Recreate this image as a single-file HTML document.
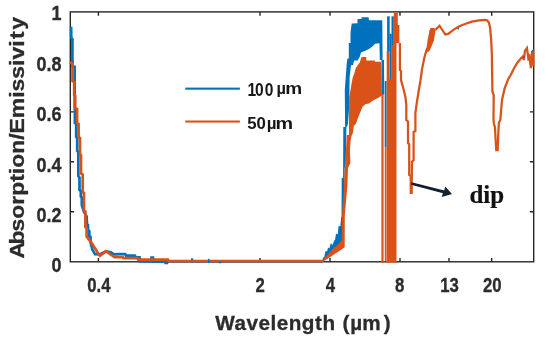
<!DOCTYPE html>
<html><head><meta charset="utf-8"><title>Absorption/Emissivity</title>
<style>
html,body{margin:0;padding:0;background:#fff;}
svg{display:block;}
text{font-family:"Liberation Sans",sans-serif;font-weight:bold;fill:#2c2c2c;stroke:#2c2c2c;stroke-width:0.3px;}
.tk{font-size:18px;}
</style></head>
<body>
<svg width="550" height="343" viewBox="0 0 550 343">
<rect x="0" y="0" width="550" height="343" fill="#ffffff"/>

<!-- ===== AXES ===== -->
<g fill="none" stroke="#262626" stroke-width="1.4">
<rect x="70.3" y="11.9" width="463.4" height="249.9"/>
<path d="M98.4,261.8v-3.8 M260,261.8v-3.8 M330,261.8v-3.8 M400,261.8v-3.8 M449,261.8v-3.8 M491.7,261.8v-3.8"/>
<path d="M98.4,11.9v3.8 M260,11.9v3.8 M330,11.9v3.8 M400,11.9v3.8 M449,11.9v3.8 M491.7,11.9v3.8"/>
<path d="M70.3,61.9h3.8 M70.3,111.9h3.8 M70.3,161.8h3.8 M70.3,211.8h3.8"/>
<path d="M533.7,61.9h-3.8 M533.7,111.9h-3.8 M533.7,161.8h-3.8 M533.7,211.8h-3.8"/>
</g>

<!-- ===== BLUE (100um) ===== -->
<g fill="none" stroke="#0072bd" stroke-width="2.25" stroke-linejoin="miter">
<path stroke-width="2.7" d="M71.1,26.7 L71.3,38 L72.4,39 L72.4,66 L74.7,67 L74.7,108 L74.9,109 L74.9,123 L76.2,124 L76.2,137 L77.2,138 L77.2,151 L78.3,152 L78.3,176 L79.5,177.5 L79.5,190 L80.8,191 L80.8,196.5 L81.8,197.5 L81.8,205 L84,212 L86.6,216.3 L87,224 L88,225 L88,230 L89.3,231 L89.3,236 L90.5,237 L90.6,242.8 L92.4,249.8 L95,254.2 L99.4,254.5 L105.9,251.5 L110.8,252.4 L114.3,254.4 L119.5,254.2 L125.3,254.2 L126,255.6 L134.8,255.6 L136,257.3 L139.5,257.3 L140,261.4 L151,261.4 L151.5,257.6 L153,257.6 L153.5,261.6 L165,261.6 L165.5,263 L167,263 L167.5,261.4 L322,261.4"/>
</g>
<g fill="#0072bd" stroke="none">
<!-- rise triangle -->
<path d="M322,261.5 L322.9,258 L324.3,257 L325.5,251 L327,251.5 L328.1,247.6 L329.4,248.5 L330.7,243.2 L332.5,245 L334.2,240.6 L335,240 L336,233.6 L337.7,234.5 L338.6,225.7 L340.3,226.6 L341.2,217 L343.5,217 L343.5,243 L332.5,252 L323,260.5 Z"/>
<!-- big noise region -->
<path d="M341.5,222 L341.7,178 L343.1,178 L343.3,127 L345.1,127 L344.8,90 L345.7,77.5 L346.6,65 L347.4,58.6 L348.8,58.6 L348.8,43 L350.5,42.9 L350.5,35 L350.7,31 L351.7,23.5 L357.5,23.2 L357.5,19 L361.6,19 L361.6,17.3 L368.6,17.3 L369,20.3 L382.3,20.3 L382.6,60 L384,60 L384.2,94.5 L381.5,94.5 L381.5,60 L379.8,60 L379.5,43.3 L375,43.8 L372.4,46.4 L368.9,49 L365.4,50.8 L361,52.5 L359.7,56.9 L357.5,60.4 L354,60.4 L353.1,65 L351,65.3 L349.6,77.5 L349.4,97.8 L349,110 L347.8,125 L346.4,127 L346,150 L345.7,165 L344.6,168 L344,222 Z"/>
<!-- vertical lines near 7.5um -->
<rect x="387.1" y="16.3" width="2.6" height="35"/>
<rect x="391.5" y="16.3" width="2.3" height="29.5"/>
<rect x="389.5" y="33.8" width="2.2" height="45.5"/>
<rect x="384.7" y="81" width="1.9" height="66.5"/>
</g>

<!-- ===== ORANGE (50um) ===== -->
<g fill="none" stroke="#d95319" stroke-width="2.25" stroke-linejoin="miter">
<path stroke-width="2.7" d="M69.6,62.6 L72,63.2 L72.5,65 L72.5,81 L74.2,82 L74.2,95 L75.2,96 L75.2,108 L77.1,109 L77.1,123 L78.6,124 L78.6,137 L80,138 L80,154 L81,155 L81,173.5 L82.7,174.5 L82.7,192 L84,193 L84,210.5 L85.4,211.5 L85.4,227 L86.6,228 L86.6,236.5 L91.5,242.8 L95.9,249.8 L99.9,255.9 L105.9,251.2 L112,255.5 L114.5,257.1 L122.7,257.1 L123.5,258.1 L137.4,258.1 L138.2,259.6 L167.9,259.6 L168.7,261.2 L322.5,261.2"/>
<!-- descending to dip and back up, to the end -->
<path d="M399.9,43 L399.9,70 L401,71 L401,80 L403.5,89 L405.5,97.5 L406.3,105 L406.3,120 L408,121.5 L408,143 L409.2,144.5 L409.2,175 L410.7,176 L410.8,192.8 L411.7,192.8 L411.9,162 L413.6,160 L413.6,132 L415.4,131 L415.4,113 L416.9,102 L418.6,91.5 L420.4,81 L422.1,68.8 L423.9,60 L424.8,55.8 L427.2,48"/>
<path d="M435.4,30 L439.5,25.7 L443,31 L445.3,34.5 L448.2,33.9 L451.1,31.6 L455.2,28.6 L459.3,26.3 L465,24 L472,21.7 L479,20.4 L484.5,19.9 L487.1,20.4 L488.9,22.5 L490.1,27.8 L491.2,40 L491.9,55.8 L492,65 L492.4,91.5 L493.7,95 L493.5,120 L494,124 L495,127.5 L495.6,139.8 L496.3,150.2 L497.7,150.2 L498.2,136 L498.8,123.1 L500.3,120 L501,112 L502,100 L504.7,88 L508.2,79.3 L511,74.5 L514,68.2 L517.5,62.4 L521,58.3 L522.7,56.6 L523.9,60 L525,50.6 L527,48 L528.6,60.6 L529.1,54.2 L530.9,68.2 L532,52.5 L533.2,51.3 L533.5,66.5"/>
</g>
<g fill="#d95319" stroke="none">
<!-- rise wedge -->
<path d="M321.5,261.9 L322.9,260 L332.5,249.3 L340.3,242.3 L341.9,239.7 L341.9,216 L343.8,190 L344.6,168 L345.7,165 L345.7,150 L346,150 L346.8,135 L349,135 L349,120 L349.2,97.8 L350.5,90 L351.4,84.5 L352.7,77.5 L354.4,73.1 L355.8,67.9 L359.7,62.6 L360.1,61.3 L361.5,56.9 L366.3,56.9 L366.3,60.4 L375,60.4 L375,61.7 L381,61.7 L381.3,65.5 L382,94 L383.6,94 L383.6,262.8 L381.4,262.8 L381.4,95.5 L379.3,97.2 L373.5,100.2 L368.8,103.6 L365.3,104.2 L362.4,107.1 L360,113 L357.7,118.8 L356,123.5 L353.8,126.1 L352.9,133.1 L351.6,135.7 L350.7,140.1 L349.9,150 L350.4,163 L348,168 L347.5,185 L347,190 L344.8,216 L344.7,247.3 L332.5,255.4 L322.5,261.9 Z"/>
<!-- tall band -->
<path d="M386.7,262.8 L386.7,51 L389.4,51 L389.4,79 L391.4,79 L391.4,45.3 L393.8,45.3 L393.8,12.5 L397.8,12.5 L397.8,25 L399.4,25 L399.4,43 L396.5,43 L396.5,262.8 Z"/>
<rect x="384.8" y="147.5" width="1.7" height="115.3"/>
<!-- noise near 11um -->
<path d="M426.3,50 L427.6,40.3 L429.6,29.8 L430.7,28 L434.2,28 L435.6,29.8 L434,40.3 L430,50 L427.8,52.5 Z"/>
</g>

<!-- blue specks on top -->
<g fill="#0072bd">
<rect x="191" y="258.3" width="2.2" height="2"/>
<rect x="208" y="258.8" width="1.5" height="4"/>
<rect x="218.8" y="261.5" width="2.2" height="1.8"/>
<rect x="457.5" y="27.8" width="1.6" height="1.6"/>
<path d="M522.6,57.6 L524,55.6 L524.8,56.4 L523.4,58.4 Z"/>
<path d="M531,51.4 L533.8,48.6 L534,50.4 L531.8,52.4 Z"/>
</g>

<!-- ===== TICK LABELS ===== -->
<g class="tk" text-anchor="end">
<text transform="translate(61.6,20.0) scale(1,1.1)">1</text>
<text transform="translate(61.6,70.5) scale(1,1.1)">0.8</text>
<text transform="translate(61.6,121.0) scale(1,1.1)">0.6</text>
<text transform="translate(61.6,171.5) scale(1,1.1)">0.4</text>
<text transform="translate(61.6,222.0) scale(1,1.1)">0.2</text>
<text transform="translate(61.6,272.3) scale(1,1.1)">0</text>
</g>
<g class="tk" text-anchor="middle">
<text transform="translate(98.9,292.2) scale(0.93,1.1)">0.4</text>
<text transform="translate(260.2,292.2) scale(0.93,1.1)">2</text>
<text transform="translate(330.4,292.2) scale(0.93,1.1)">4</text>
<text transform="translate(399.6,292.2) scale(0.93,1.1)">8</text>
<text transform="translate(449.5,292.2) scale(0.93,1.1)">13</text>
<text transform="translate(492.3,292.2) scale(0.93,1.1)">20</text>
</g>

<!-- axis labels -->
<text y="329.5" font-size="20.7"><tspan x="215.2" letter-spacing="0.5">Wavelength</tspan><tspan x="342.4">(</tspan><tspan x="350.3">µm</tspan><tspan x="383.8">)</tspan></text>
<text transform="translate(24.3,258.6) rotate(-90) scale(1.17,1)" font-size="19.6">A<tspan dx="-2.1">b</tspan><tspan dx="-0.9">s</tspan>orption/Emissivi<tspan dx="1.3">t</tspan><tspan dx="1.3">y</tspan></text>

<!-- legend -->
<rect x="185.3" y="87.6" width="54.6" height="2.1" fill="#0072bd"/>
<rect x="185.3" y="120.5" width="54.6" height="2.1" fill="#d95319"/>
<g style="fill:#161616;stroke:none">
<text transform="translate(0,95.7) scale(1,1.12)" font-size="15.6" style="fill:#161616;stroke:none" x="247.4 254.9 264.7" y="0">100</text>
<text font-size="16.4" y="93.5" style="fill:#161616;stroke:none"><tspan x="276.6">µ</tspan><tspan x="285.2" textLength="16.9" lengthAdjust="spacingAndGlyphs">m</tspan></text>
<text font-size="16.8" y="129.2" style="fill:#161616;stroke:none"><tspan x="247.2">50</tspan><tspan x="266.7" font-size="17">µ</tspan><tspan x="275.4" font-size="17" textLength="17.6" lengthAdjust="spacingAndGlyphs">m</tspan></text>
</g>

<!-- arrow + dip -->
<g fill="#10202e" stroke="none">
<path d="M411.6,182.2 L444.3,190.6 L445.2,186.6 L452,194 L441.6,197 L443,193.2 L411,184.8 Z"/>
</g>
<text x="469.4" y="203.4" font-size="25" style="font-family:'Liberation Serif',serif;font-weight:bold;fill:#111;stroke:#111;stroke-width:0.2px;">dip</text>
</svg>
</body></html>
